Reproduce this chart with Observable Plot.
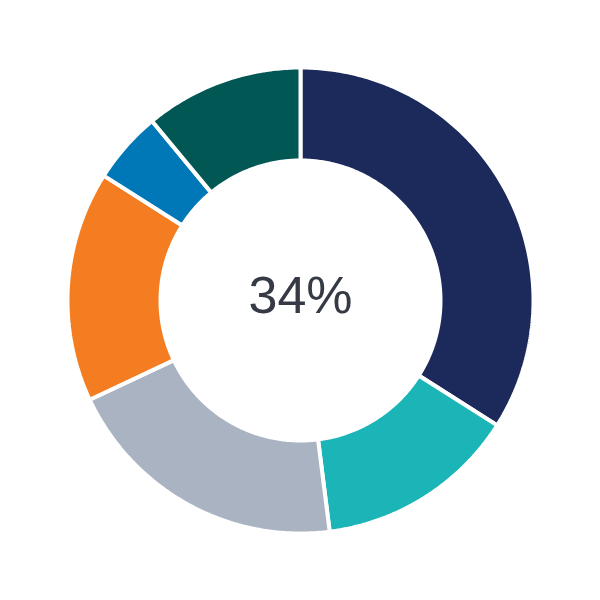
<!DOCTYPE html>
<html>
<head>
<meta charset="utf-8">
<script src="https://cdn.jsdelivr.net/npm/d3@7"></script>
<script src="https://cdn.jsdelivr.net/npm/@observablehq/plot@0.6"></script>
<style>
  html, body { margin: 0; padding: 0; background: #fff; }
</style>
</head>
<body>
<div id="chart"></div>
<script>
const categories = ["A", "B", "C", "D", "E", "F"];
const values = [34, 14, 20, 16, 5, 11];
const colors = ["#1b2a5b", "#1bb5b8", "#a9b3c1", "#f37d20", "#0077b6", "#015753"];
const centerLabel = "34%";

const outerR = 233;
const innerR = 140;

const total = d3.sum(values);
const points = [];
let acc = 0;
categories.forEach((cat, i) => {
  const a0 = acc / total * 2 * Math.PI;
  acc += values[i];
  const a1 = acc / total * 2 * Math.PI;
  const n = Math.max(8, Math.ceil((a1 - a0) / 0.01));
  for (let k = 0; k <= n; k++) {
    const a = a0 + (a1 - a0) * k / n;
    points.push({cat, x: outerR * Math.sin(a), y: outerR * Math.cos(a)});
  }
  for (let k = n; k >= 0; k--) {
    const a = a0 + (a1 - a0) * k / n;
    points.push({cat, x: innerR * Math.sin(a), y: innerR * Math.cos(a)});
  }
});

const chart = Plot.plot({
  width: 600,
  height: 600,
  margin: 0,
  x: {domain: [-300, 300], axis: null},
  y: {domain: [-300, 300], axis: null},
  color: {domain: categories, range: colors},
  marks: [
    Plot.line(points, {x: "x", y: "y", z: "cat", fill: "cat", stroke: "white", strokeWidth: 4, strokeLinejoin: "miter", curve: "linear-closed"}),
    Plot.text([centerLabel], {x: 0, y: 0, text: d => d, fontSize: 52, fill: "#353a45", fontFamily: "Liberation Sans, Arial, sans-serif", dy: -4})
  ]
});
document.getElementById("chart").appendChild(chart);
</script>
</body>
</html>
